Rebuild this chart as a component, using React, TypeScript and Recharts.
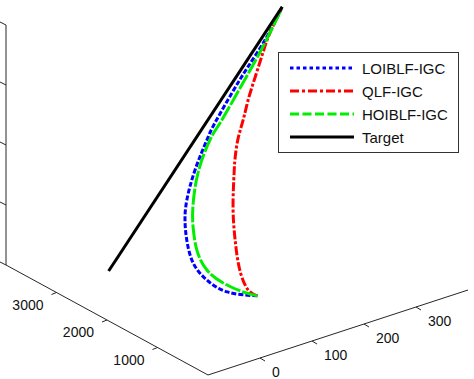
import { ScatterChart, Scatter, XAxis, YAxis, Legend } from "recharts";

type P3 = [number, number, number];

// axis limits: x = cross range, y = down range, z = altitude
const xLim = [-100, 400];
const yLim = [0, 4000];
const zLim = [0, 4000];
const xTicks = [0, 100, 200, 300];
const yTicks = [1000, 2000, 3000];
const zTicks = [0, 1000, 2000, 3000, 4000];

// trajectories, points as [x, y, z]
const loiblfIgc: P3[] = [
  [-5, 0, 1050], [-34, 300, 1060], [-44, 600, 1149], [-46, 850, 1325],
  [-34, 1100, 1558], [-18, 1300, 1755], [5, 1500, 1931], [45, 1750, 2204],
  [92, 2000, 2455], [122, 2150, 2585], [179, 2400, 2809], [229, 2600, 3008],
  [285, 2800, 3258], [334, 3000, 3530],
];
const qlfIgc: P3[] = [
  [-5, 0, 1050], [-13, 100, 1125], [0, 400, 1282], [25, 750, 1553],
  [55, 1100, 1857], [91, 1450, 2161], [112, 1650, 2226], [132, 1800, 2433],
  [157, 1950, 2629], [186, 2150, 2788], [219, 2350, 2987], [253, 2550, 3197],
  [286, 2750, 3345], [334, 3000, 3530],
];
const hoiblfIgc: P3[] = [
  [-5, 0, 1050], [-18, 150, 1083], [-32, 400, 1158], [-39, 650, 1279],
  [-34, 900, 1483], [-17, 1150, 1705], [2, 1350, 1891], [41, 1650, 2211],
  [93, 1950, 2475], [132, 2150, 2558], [185, 2400, 2726], [237, 2600, 2987],
  [287, 2800, 3253], [334, 3000, 3530],
];
const target: P3[] = [
  [10, 3100, 0], [334, 3000, 3530],
];

const series = [
  { name: "LOIBLF-IGC", data: loiblfIgc, color: "#0000ff", dash: "3.5 3", curveDash: "5 2", joint: "natural" },
  { name: "QLF-IGC", data: qlfIgc, color: "#ff0000", dash: "9 3 3 3", curveDash: "9 2 3 2", joint: "natural" },
  { name: "HOIBLF-IGC", data: hoiblfIgc, color: "#00ee00", dash: "9 3.5", curveDash: "16 2", joint: "natural" },
  { name: "Target", data: target, color: "#000000", dash: undefined, curveDash: undefined, joint: "linear" },
];

// MATLAB-like 3D view: pixel offsets per data unit
const W = 474;
const H = 379;
const origin = { u: 208, v: 375 };
const ex = { u: 0.52, v: -0.17 };
const ey = { u: -0.0505, v: -0.0275 };
const ez = { u: 0, v: -0.06 };

const project = ([x, y, z]: P3) => {
  const dx = x - xLim[0];
  const dy = y - yLim[0];
  const dz = z - zLim[0];
  return {
    u: origin.u + ex.u * dx + ey.u * dy + ez.u * dz,
    v: origin.v + ex.v * dx + ey.v * dy + ez.v * dz,
  };
};

const axisLines: P3[][] = [
  [[xLim[0], yLim[0], zLim[0]], [xLim[1], yLim[0], zLim[0]]],
  [[xLim[0], yLim[0], zLim[0]], [xLim[0], yLim[1], zLim[0]]],
  [[xLim[0], yLim[1], zLim[0]], [xLim[0], yLim[1], zLim[1]]],
];

const xTickPts = xTicks.map((t) => ({ ...project([t, yLim[0], zLim[0]]), label: String(t) }));
const yTickPts = yTicks.map((t) => ({ ...project([xLim[0], t, zLim[0]]), label: String(t) }));
const zTickPts = zTicks.map((t) => ({ ...project([xLim[0], yLim[1], t]), label: "" }));

const FONT = '"Liberation Sans", Arial, Helvetica, sans-serif';
const AXIS = "#262626";

const tickShape = (dx: number, dy: number) => (p: any) =>
  <line x1={p.cx} y1={p.cy} x2={p.cx + dx} y2={p.cy + dy} stroke={AXIS} strokeWidth={1} />;

const labelShape = (dx: number, dy: number, anchor: "start" | "end") => (p: any) =>
  (
    <text x={p.cx + dx} y={p.cy + dy} textAnchor={anchor} dominantBaseline="central"
      fontFamily={FONT} fontSize={14} fill="#111">
      {p.payload.label}
    </text>
  );

const renderLegend = () => (
  <div style={{ width: 181, height: 101, boxSizing: "border-box", border: "1px solid #333", background: "#fff" }}>
    <svg width={179} height={99} style={{ display: "block" }}>
      {series.map((s, i) => {
        const y = 15 + i * 23;
        return (
          <g key={s.name}>
            <line x1={11} x2={75} y1={y} y2={y} stroke={s.color} strokeWidth={3} strokeDasharray={s.dash} />
            <text x={83} y={y} dominantBaseline="central" fontFamily={FONT} fontSize={15} fill="#111">
              {s.name}
            </text>
          </g>
        );
      })}
    </svg>
  </div>
);

export default function App() {
  return (
    <div style={{ position: "absolute", left: 0, top: 0, background: "#fff" }}>
      <ScatterChart width={W} height={H} margin={{ top: 0, right: 0, bottom: 0, left: 0 }}>
        <XAxis type="number" dataKey="u" domain={[0, W]} allowDataOverflow hide />
        <YAxis type="number" dataKey="v" domain={[0, H]} allowDataOverflow reversed hide />

        {axisLines.map((seg, i) => (
          <Scatter key={`axis-${i}`} data={seg.map(project)} fill={AXIS} legendType="none"
            line={{ stroke: AXIS, strokeWidth: 1 }} shape={() => <g />} isAnimationActive={false} />
        ))}
        <Scatter data={xTickPts} legendType="none" shape={tickShape(5, 3)} isAnimationActive={false} />
        <Scatter data={yTickPts} legendType="none" shape={tickShape(-5, 2)} isAnimationActive={false} />
        <Scatter data={zTickPts} legendType="none" shape={tickShape(-6, -3)} isAnimationActive={false} />
        <Scatter data={xTickPts} legendType="none" shape={labelShape(12, 14, "start")} isAnimationActive={false} />
        <Scatter data={yTickPts} legendType="none" shape={labelShape(-13, 12, "end")} isAnimationActive={false} />

        {series.map((s) => (
          <Scatter key={s.name} name={s.name} data={s.data.map(project)} fill={s.color}
            line={{ stroke: s.color, strokeWidth: 3, strokeDasharray: s.curveDash }}
            lineJointType={s.joint as any} shape={() => <g />} isAnimationActive={false} />
        ))}

        <Legend content={renderLegend} layout="vertical" align="center" verticalAlign="middle"
          wrapperStyle={{ position: "absolute", left: 278, top: 52, width: 181, height: 101 }} />
      </ScatterChart>
    </div>
  );
}
